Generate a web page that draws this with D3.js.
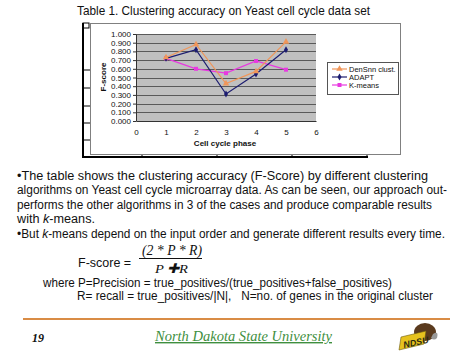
<!DOCTYPE html>
<html><head><meta charset="utf-8">
<script src="https://cdn.jsdelivr.net/npm/d3@7"></script>
<style>
html,body{margin:0;padding:0;background:#fff;}
svg{display:block;font-family:"Liberation Sans",Arial,sans-serif;}
</style></head>
<body>
<script>
// ---- data ----
const phases = [1, 2, 3, 4, 5];
const densnn = [0.73, 0.88, 0.43, 0.57, 0.91];
const adapt  = [0.72, 0.82, 0.31, 0.54, 0.82];
const kmeans = [0.72, 0.60, 0.55, 0.69, 0.59];
const seriesNames = ["DenSnn clust.", "ADAPT", "K-means"];
const xTickValues = [0, 1, 2, 3, 4, 5, 6];
const yTickValues = [0, 0.1, 0.2, 0.3, 0.4, 0.5, 0.6, 0.7, 0.8, 0.9, 1.0];
const bodyLines = [
  [{t:"\u2022The table shows the clustering accuracy (F-Score) by different clustering"}],
  [{t:"algorithms on Yeast cell cycle microarray data. As can be seen, our approach out-"}],
  [{t:"performs the other algorithms in 3 of the cases and produce comparable results"}],
  [{t:"with "},{t:"k",i:true},{t:"-means."}],
  [{t:"\u2022But "},{t:"k",i:true},{t:"-means depend on the input order and generate different results every time."}]
];
const bodyWidths = [411, 430, 415, 78, 428];

const W = 474, H = 355;
const svg = d3.select("body").append("svg").attr("width", W).attr("height", H);

// Title
svg.append("text").attr("x", 77).attr("y", 15).attr("font-size", 13)
  .attr("textLength", 293).attr("lengthAdjust", "spacingAndGlyphs")
  .attr("fill", "#111").text("Table 1. Clustering accuracy on Yeast cell cycle data set");

// table frame behind the chart
const tf = svg.append("g").attr("stroke", "#000");
tf.append("line").attr("x1", 83).attr("x2", 83).attr("y1", 23).attr("y2", 158).attr("stroke-width", 2);
tf.append("line").attr("x1", 82).attr("x2", 368).attr("y1", 157).attr("y2", 157).attr("stroke-width", 2);
tf.append("rect").attr("x", 83).attr("y", 23).attr("width", 6).attr("height", 5).attr("fill", "none").attr("stroke-width", 1);
[70, 88, 106, 123, 140].forEach(y => tf.append("line").attr("x1", 83).attr("x2", 90).attr("y1", y).attr("y2", y).attr("stroke-width", 1));
[142, 217, 292, 367].forEach(x => tf.append("line").attr("x1", x).attr("x2", x).attr("y1", 153).attr("y2", 157).attr("stroke-width", 1));

// chart frame
svg.append("rect").attr("x", 90.5).attr("y", 23.5).attr("width", 310).attr("height", 131)
  .attr("fill", "#fff").attr("stroke", "#808080").attr("stroke-width", 1);

// scales
const x = d3.scaleLinear().domain([0, 6]).range([136, 316]);
const y = d3.scaleLinear().domain([0, 1]).range([121, 34]);

// plot area
svg.append("rect").attr("x", x(0)).attr("y", y(1)).attr("width", x(6) - x(0)).attr("height", y(0) - y(1))
  .attr("fill", "#c0c0c0");
// gridlines
svg.append("g").selectAll("line").data(yTickValues.slice(1)).join("line")
  .attr("x1", x(0)).attr("x2", x(6)).attr("y1", d => Math.round(y(d)) + 0.5).attr("y2", d => Math.round(y(d)) + 0.5)
  .attr("stroke", "#5a5a5a").attr("stroke-width", 1);

// y axis
const yAxis = svg.append("g").attr("transform", `translate(${x(0)},0)`)
  .call(d3.axisLeft(y).tickValues(yTickValues).tickFormat(d3.format(".3f")).tickSizeInner(3).tickSizeOuter(0).tickPadding(2));
yAxis.select(".domain").attr("stroke", "#333");
yAxis.selectAll(".tick line").attr("stroke", "#333");
yAxis.selectAll("text").attr("font-size", 8).attr("fill", "#111").attr("font-family", "Liberation Sans, Arial, sans-serif");

// x axis
const xAxis = svg.append("g").attr("transform", `translate(0,${y(0)})`)
  .call(d3.axisBottom(x).tickValues(xTickValues).tickFormat(d3.format("d")).tickSizeInner(0).tickSizeOuter(0).tickPadding(8));
xAxis.select(".domain").attr("stroke", "#333");
xAxis.selectAll("text").attr("font-size", 8).attr("fill", "#111").attr("font-family", "Liberation Sans, Arial, sans-serif");

// axis titles
svg.append("text").attr("x", 225).attr("y", 146).attr("text-anchor", "middle").attr("font-size", 8)
  .attr("font-weight", "bold").attr("fill", "#111").text("Cell cycle phase");
svg.append("text").attr("transform", "translate(106,77) rotate(-90)").attr("text-anchor", "middle")
  .attr("font-size", 8).attr("font-weight", "bold").attr("fill", "#111").text("F-score");

// series
const series = [
  {name: seriesNames[0], vals: densnn, color: "#f0965a", sym: d3.symbolTriangle, size: 18},
  {name: seriesNames[1], vals: adapt, color: "#1c1c70", sym: d3.symbolDiamond, size: 14},
  {name: seriesNames[2], vals: kmeans, color: "#e838e0", sym: d3.symbolSquare, size: 16}
];
const line = d3.line().x(d => x(d[0])).y(d => y(d[1]));
series.slice().reverse().forEach(s => {
  const pts = phases.map((p, i) => [p, s.vals[i]]);
  svg.append("path").datum(pts).attr("d", line).attr("fill", "none").attr("stroke", s.color).attr("stroke-width", 1.2);
  svg.append("g").selectAll("path").data(pts).join("path")
    .attr("transform", d => `translate(${x(d[0])},${y(d[1])})`)
    .attr("d", d3.symbol().type(s.sym).size(s.size)).attr("fill", s.color);
});

// legend
const lg = svg.append("g");
lg.append("rect").attr("x", 327.5).attr("y", 62.5).attr("width", 71).attr("height", 32)
  .attr("fill", "#fff").attr("stroke", "#555");
series.forEach((s, i) => {
  const ly = 69 + i * 8;
  lg.append("line").attr("x1", 332).attr("x2", 347).attr("y1", ly).attr("y2", ly).attr("stroke", s.color).attr("stroke-width", 1.2);
  lg.append("path").attr("transform", `translate(339.5,${ly})`).attr("d", d3.symbol().type(s.sym).size(s.size)).attr("fill", s.color);
  lg.append("text").attr("x", 349).attr("y", ly + 3).attr("font-size", 7.5).attr("fill", "#111").text(s.name);
});

// body text
bodyLines.forEach((segs, i) => {
  const t = svg.append("text").attr("x", 17).attr("y", 179.5 + i * 14.6).attr("font-size", 12.5).attr("fill", "#111")
    .attr("textLength", bodyWidths[i]).attr("lengthAdjust", "spacingAndGlyphs");
  segs.forEach(s => t.append("tspan").attr("font-style", s.i ? "italic" : "normal").text(s.t));
});

// formula
svg.append("text").attr("x", 78).attr("y", 267).attr("font-size", 12.5).attr("fill", "#111").text("F-score =");
svg.append("text").attr("x", 142).attr("y", 255).attr("font-size", 14.5)
  .attr("font-family", "Liberation Serif, Times New Roman, serif").attr("font-style", "italic").attr("fill", "#111")
  .attr("textLength", 60).attr("lengthAdjust", "spacingAndGlyphs")
  .text("(2 * P * R)");
svg.append("line").attr("x1", 139).attr("x2", 202).attr("y1", 258.5).attr("y2", 258.5).attr("stroke", "#111").attr("stroke-width", 1);
svg.append("text").attr("x", 155).attr("y", 272.5).attr("font-size", 13.5)
  .attr("font-family", "Liberation Serif, Times New Roman, serif").attr("font-style", "italic").attr("fill", "#111")
  .attr("textLength", 33).attr("lengthAdjust", "spacingAndGlyphs")
  .text("P \u271AR");
svg.append("text").attr("x", 43).attr("y", 286.5).attr("font-size", 12.5).attr("fill", "#111")
  .attr("textLength", 349).attr("lengthAdjust", "spacingAndGlyphs")
  .text("where P=Precision = true_positives/(true_positives+false_positives)");
svg.append("text").attr("x", 77).attr("y", 299.5).attr("font-size", 12.5).attr("fill", "#111")
  .attr("textLength", 356).attr("lengthAdjust", "spacingAndGlyphs").attr("xml:space", "preserve")
  .text("R= recall = true_positives/|N|,   N=no. of genes in the original cluster");

// footer
svg.append("line").attr("x1", 23).attr("x2", 450).attr("y1", 319).attr("y2", 319).attr("stroke", "#d98c45").attr("stroke-width", 2);
svg.append("text").attr("x", 32).attr("y", 342).attr("font-size", 12).attr("font-weight", "bold").attr("font-style", "italic")
  .attr("font-family", "Liberation Serif, serif").attr("fill", "#111").text("19");
svg.append("text").attr("x", 155).attr("y", 341).attr("font-size", 14).attr("font-style", "italic")
  .attr("font-family", "Liberation Serif, serif").attr("fill", "#3f8f3f")
  .attr("textLength", 177).attr("lengthAdjust", "spacingAndGlyphs")
  .attr("text-decoration", "underline").text("North Dakota State University");

// logo
const logo = svg.append("g");
logo.append("ellipse").attr("cx", 425).attr("cy", 332).attr("rx", 11).attr("ry", 9).attr("fill", "#5a3a1e");
logo.append("path").attr("d", "M433,334 q6,-4 4,4 q-3,3 -6,0 z").attr("fill", "#999");
logo.append("path").attr("d", "M401,337 l25,-6 l-2,13 l-25,6 z").attr("fill", "#e6c21e").attr("stroke", "#6b5a10").attr("stroke-width", 0.6);
logo.append("text").attr("x", 403).attr("y", 346).attr("font-size", 9).attr("font-weight", "bold").attr("font-style", "italic")
  .attr("fill", "#2a2a10").attr("transform", "rotate(-12,413,342)").text("NDSU");
</script>
</body></html>
